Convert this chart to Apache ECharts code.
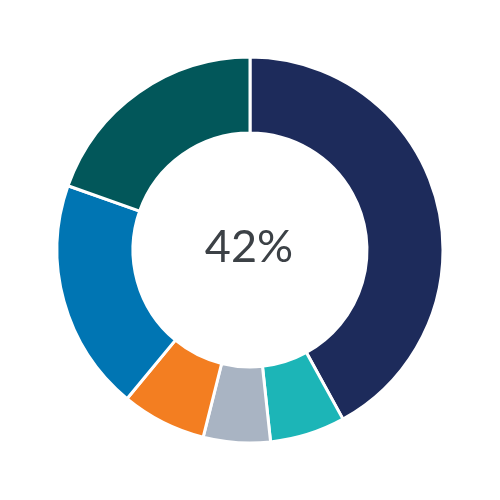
<!DOCTYPE html>
<html><head><meta charset="utf-8">
<script src="https://cdn.jsdelivr.net/npm/echarts@6/dist/echarts.min.js"></script>
<style>html,body{margin:0;padding:0;background:#fff}#c{width:500px;height:500px}</style>
</head><body><div id="c"></div>
<script>
const categories = ['A','B','C','D','E','F'];
const values = [42.0, 6.3, 5.6, 7.1, 19.4, 19.6];
const colors = ['#1d2b5b','#1cb5b7','#a9b4c3','#f37e21','#0075b3','#02575a'];
const centerLabel = '42%';
const chart = echarts.init(document.getElementById('c'));
chart.setOption({
  animation:false,
  graphic:[{type:'text',x:249,y:247,style:{text:centerLabel,fontSize:45,fontFamily:'Lato',fontWeight:'normal',fill:'#3c4146',align:'center',verticalAlign:'middle'}}],
  series:[{
    type:'pie', radius:[117,193], center:['50%','50%'], startAngle:90, clockwise:true,
    label:{show:false}, labelLine:{show:false},
    itemStyle:{borderColor:'#fff',borderWidth:3},
    emphasis:{disabled:true},
    data:categories.map((c,i)=>({name:c,value:values[i],itemStyle:{color:colors[i]}}))
  }]
});
</script></body></html>
